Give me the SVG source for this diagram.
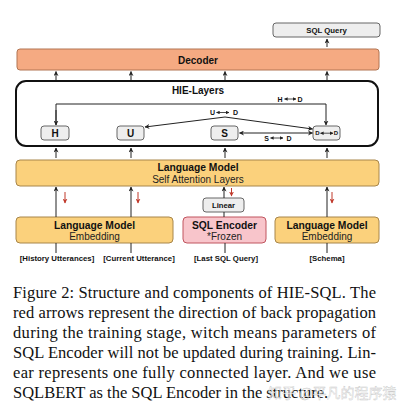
<svg xmlns="http://www.w3.org/2000/svg" width="400" height="416" viewBox="0 0 400 416">
<defs>
<marker id="ah" viewBox="0 0 10 10" refX="9" refY="5" markerWidth="5" markerHeight="5" orient="auto-start-reverse" markerUnits="userSpaceOnUse">
<path d="M0,0 L10,5 L0,10 L3,5 Z" fill="#222"/>
</marker>
<marker id="sa" viewBox="0 0 10 10" refX="9" refY="5" markerWidth="3.5" markerHeight="3.5" orient="auto-start-reverse" markerUnits="userSpaceOnUse">
<path d="M0,0 L10,5 L0,10 Z" fill="#222"/>
</marker>
<marker id="ahr" viewBox="0 0 10 10" refX="9" refY="5" markerWidth="5" markerHeight="5" orient="auto" markerUnits="userSpaceOnUse">
<path d="M0,0 L10,5 L0,10 L3,5 Z" fill="#c0392b"/>
</marker>
</defs>
<style>
.b{font-family:"Liberation Sans",Arial,sans-serif;font-weight:bold;fill:#111;text-anchor:middle}
.r{font-family:"Liberation Sans",Arial,sans-serif;fill:#222;text-anchor:middle}
.cap{font-family:"Liberation Serif","Times New Roman",serif;font-size:16.5px;fill:#111}
.ln{stroke:#222;stroke-width:1;fill:none}
.sl{stroke:#222;stroke-width:0.8;fill:none;marker-start:url(#sa);marker-end:url(#sa)}
.up{stroke:#222;stroke-width:1;fill:none;marker-end:url(#ah)}
.red{stroke:#c0392b;stroke-width:1;fill:none;marker-end:url(#ahr)}
.sm{fill:#eeeeee;stroke:#666;stroke-width:1}
.lm{fill:#fbd17c;stroke:#a8864a;stroke-width:1}
</style>
<rect width="400" height="416" fill="#fff"/>

<g id="sqlquery">
<rect class="sm" x="273" y="23" width="107" height="14" rx="3"/>
<text class="b" x="326.5" y="33.3" font-size="7.8">SQL Query</text>
</g>
<g id="decoder">
<rect x="17" y="49" width="362" height="21" rx="3" fill="#f5aa82" stroke="#b27552" stroke-width="1"/>
<text class="b" x="198" y="63.5" font-size="10">Decoder</text>
</g>
<g id="hie">
<rect x="16" y="81" width="362" height="65" rx="10" fill="#fff" stroke="#111" stroke-width="2"/>
<text class="b" x="198" y="94" font-size="10">HIE-Layers</text>
</g>
<g id="H"><rect class="sm" x="41" y="126" width="28" height="14" rx="3"/><text class="b" x="55" y="137" font-size="10">H</text></g>
<g id="U"><rect class="sm" x="117" y="126" width="27" height="14" rx="3"/><text class="b" x="130.5" y="137" font-size="10">U</text></g>
<g id="S"><rect class="sm" x="211" y="126" width="27" height="14" rx="3"/><text class="b" x="224.5" y="137" font-size="10">S</text></g>
<g id="D"><rect class="sm" x="313" y="126" width="27" height="14" rx="3"/>
<text class="b" x="317.5" y="135.3" font-size="6">D</text>
<line class="sl" x1="320.5" y1="133.2" x2="333" y2="133.2"/>
<text class="b" x="336" y="135.3" font-size="6">D</text></g>

<g id="lmsa">
<rect class="lm" x="16" y="160" width="363" height="26" rx="4"/>
<text class="b" x="198" y="171" font-size="10.3">Language Model</text>
<text class="r" x="198" y="182.5" font-size="10">Self Attention Layers</text>
</g>
<g id="linear">
<rect class="sm" x="203" y="198" width="41" height="14" rx="3"/>
<text class="b" x="223.5" y="208" font-size="7.7">Linear</text>
</g>
<g id="lmemb1">
<rect class="lm" x="16" y="217" width="157" height="26" rx="4"/>
<text class="b" x="94.5" y="228.5" font-size="10.3">Language Model</text>
<text class="r" x="94.5" y="240" font-size="10">Embedding</text>
</g>
<g id="sqlenc">
<rect x="183" y="217" width="83" height="26" rx="4" fill="#f8c5cb" stroke="#c0545e" stroke-width="1"/>
<text class="b" x="224.5" y="228.5" font-size="10.3">SQL Encoder</text>
<text class="r" x="224.5" y="240" font-size="10">*Frozen</text>
</g>
<g id="lmemb2">
<rect class="lm" x="275" y="217" width="104" height="26" rx="4"/>
<text class="b" x="327" y="228.5" font-size="10.3">Language Model</text>
<text class="r" x="327" y="240" font-size="10">Embedding</text>
</g>

<g id="inputs">
<text class="b" x="57" y="261" font-size="7.8">[History Utterances]</text>
<text class="b" x="139" y="261" font-size="7.8">[Current Utterance]</text>
<text class="b" x="226" y="261" font-size="7.8">[Last SQL Query]</text>
<text class="b" x="327" y="261" font-size="7.8">[Schema]</text>
</g>

<g id="connectors">
<line class="up" x1="327" y1="47" x2="327" y2="39"/>
<line class="up" x1="56" y1="80" x2="56" y2="71.5"/>
<line class="up" x1="131" y1="80" x2="131" y2="71.5"/>
<line class="up" x1="225" y1="80" x2="225" y2="71.5"/>
<line class="up" x1="327" y1="80" x2="327" y2="71.5"/>

<polyline class="ln" points="56,125 56,104 326,104 326,125" marker-end="url(#ah)"/>
<line class="up" x1="56" y1="110" x2="56" y2="125"/>
<text class="b" x="280" y="101.5" font-size="7">H</text>
<line class="sl" x1="284.5" y1="99" x2="296" y2="99"/>
<text class="b" x="300" y="101.5" font-size="7">D</text>

<polyline class="ln" points="145,127 225,117 312.5,129" marker-start="url(#ah)" marker-end="url(#ah)"/>
<text class="b" x="212.5" y="115" font-size="7">U</text>
<line class="sl" x1="216.5" y1="112.5" x2="229" y2="112.5"/>
<text class="b" x="235.5" y="115" font-size="7">D</text>

<line class="ln" x1="239.5" y1="133" x2="312.5" y2="133" marker-start="url(#ah)" marker-end="url(#ah)"/>
<text class="b" x="266.5" y="140.5" font-size="7">S</text>
<line class="sl" x1="270.5" y1="138" x2="283" y2="138"/>
<text class="b" x="289" y="140.5" font-size="7">D</text>

<line class="up" x1="56" y1="158" x2="56" y2="148"/>
<line class="up" x1="131" y1="158" x2="131" y2="148"/>
<line class="up" x1="225" y1="158" x2="225" y2="148"/>
<line class="up" x1="327" y1="158" x2="327" y2="148"/>

<line class="up" x1="56" y1="217" x2="56" y2="187"/>
<line class="up" x1="131" y1="217" x2="131" y2="187"/>
<line class="up" x1="224" y1="198" x2="224" y2="187"/>
<line class="ln" x1="224" y1="212" x2="224" y2="217"/>
<line class="up" x1="327" y1="217" x2="327" y2="187"/>

<line class="red" x1="65" y1="192" x2="65" y2="203"/>
<line class="red" x1="138" y1="192" x2="138" y2="203"/>
<line class="red" x1="231.5" y1="188" x2="231.5" y2="196"/>
<line class="red" x1="332" y1="192" x2="332" y2="203"/>

<line class="ln" x1="56" y1="243" x2="56" y2="253"/>
<line class="ln" x1="131" y1="243" x2="131" y2="253"/>
<line class="ln" x1="225" y1="243" x2="225" y2="253"/>
<line class="ln" x1="327" y1="243" x2="327" y2="253"/>
</g>

<g id="caption">
<text class="cap" x="13" y="298" textLength="363" lengthAdjust="spacing">Figure 2: Structure and components of HIE-SQL. The</text>
<text class="cap" x="13" y="318" textLength="363" lengthAdjust="spacing">red arrows represent the direction of back propagation</text>
<text class="cap" x="13" y="338" textLength="363" lengthAdjust="spacing">during the training stage, witch means parameters of</text>
<text class="cap" x="13" y="358" textLength="363" lengthAdjust="spacing">SQL Encoder will not be updated during training. Lin-</text>
<text class="cap" x="13" y="378" textLength="363" lengthAdjust="spacing">ear represents one fully connected layer.  And we use</text>
<text class="cap" x="13" y="398">SQLBERT as the SQL Encoder in the structure.</text>
</g>
<text x="268" y="398" font-family="'Noto Sans CJK SC',sans-serif" font-size="14" fill="#ffffff" fill-opacity="0.75" stroke="#999" stroke-width="0.4" stroke-opacity="0.6">知乎 @平凡的程序猿</text>
</svg>
